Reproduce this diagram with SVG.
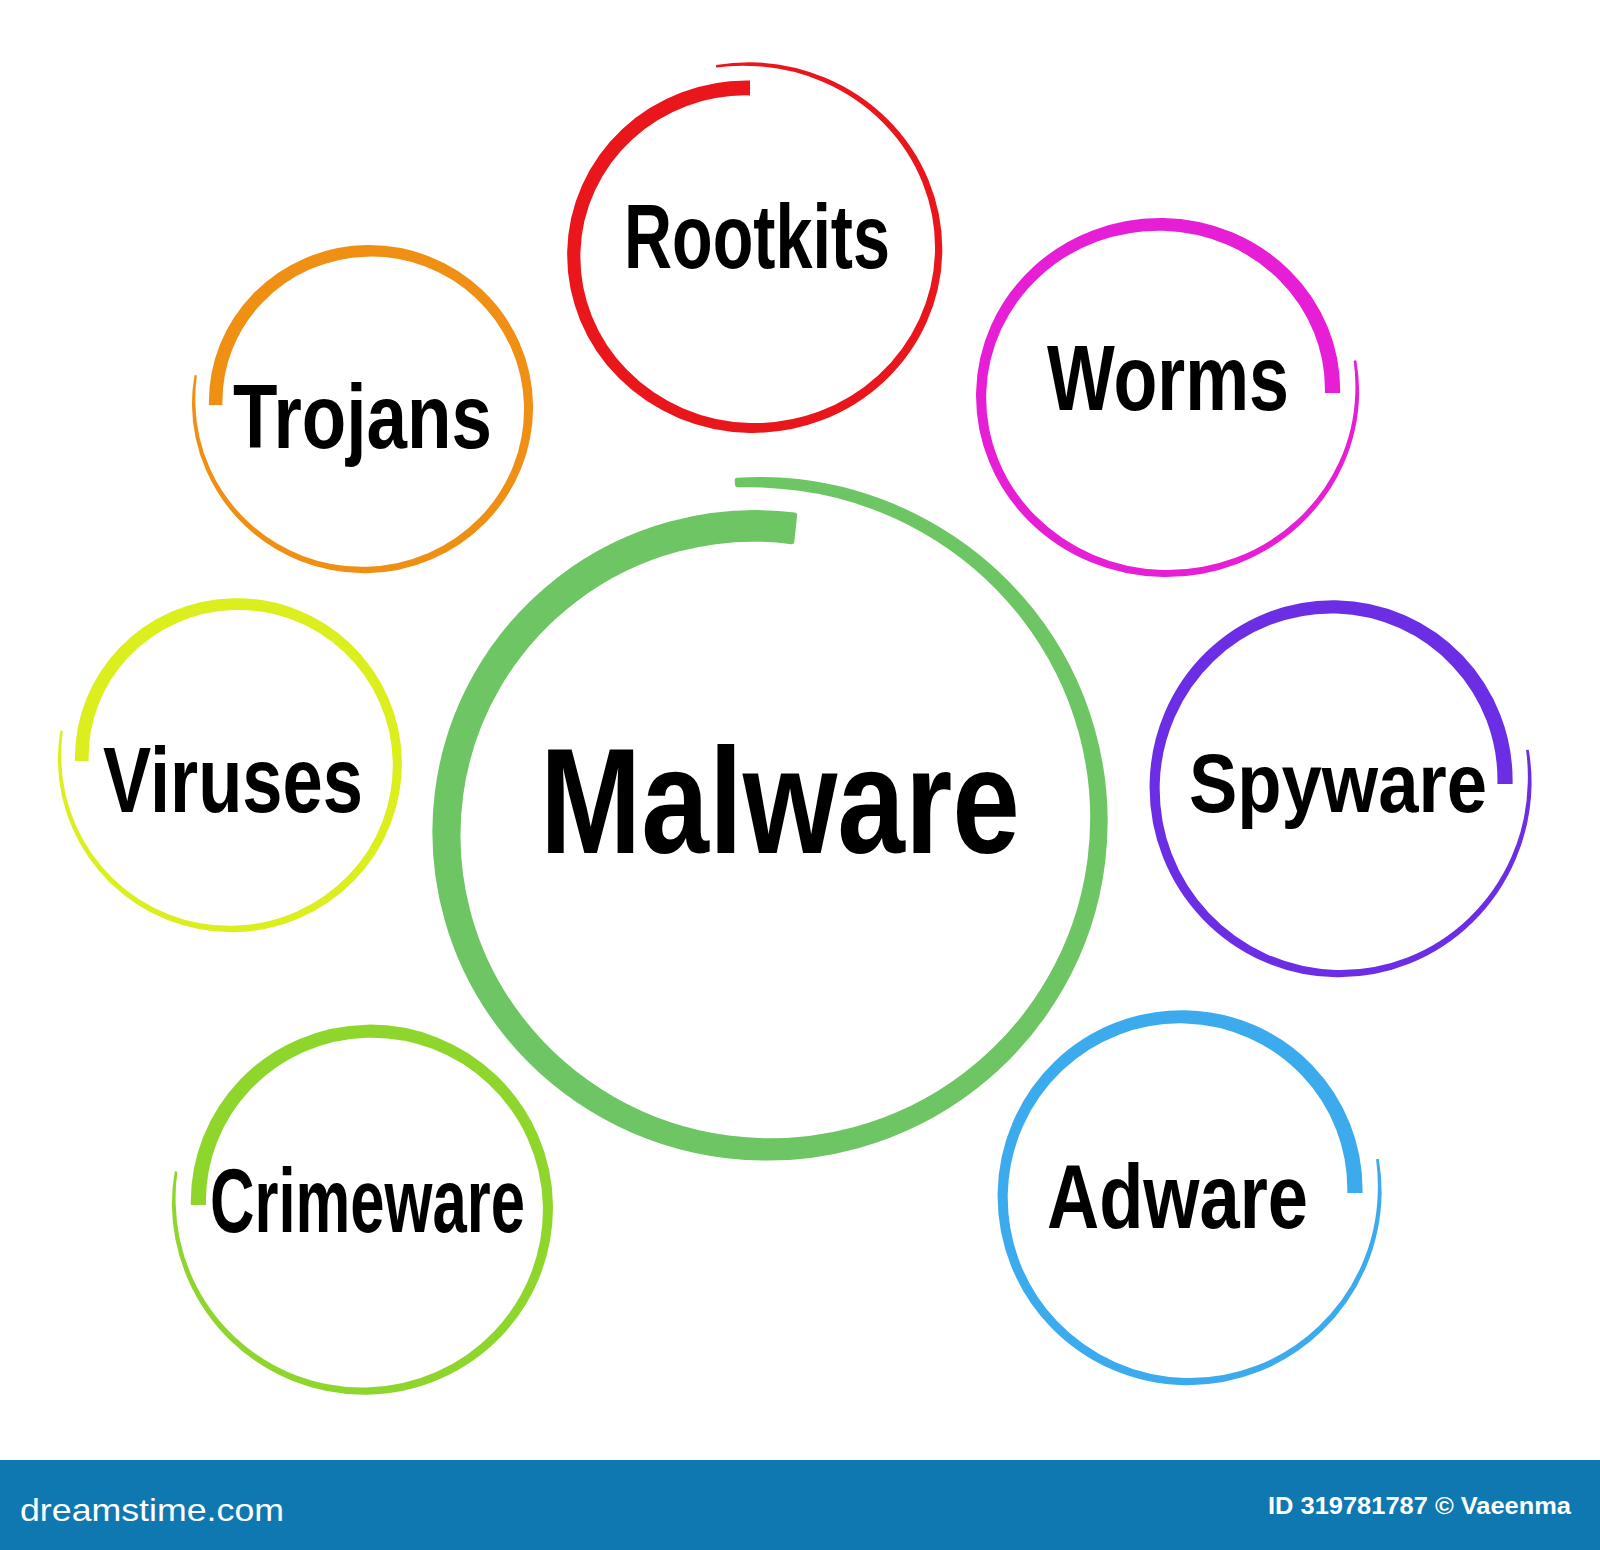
<svg xmlns="http://www.w3.org/2000/svg" xmlns:xlink="http://www.w3.org/1999/xlink" width="1600" height="1550" viewBox="0 0 1600 1550">
<style>
.lbl { font-family: "Liberation Sans", Arial, sans-serif; font-weight: bold; fill: #000; }
.foot { font-family: "Liberation Sans", Arial, sans-serif; fill: #fff; }
</style>
<defs>
<path id="spiral" d="M0,-104.5 A105.3,105.3 0 0 0 -75.04,-75.04 A106.8,106.8 0 0 0 -107.55,0 A108.2,108.2 0 0 0 -77.02,77.02 A109.6,109.6 0 0 0 0,110.3 A111,111 0 0 0 78.96,78.96 A112.4,112.4 0 0 0 113.1,0 A113.8,113.8 0 0 0 80.94,-80.94 A115.1,115.1 0 0 0 0,-115.74 A115.8,115.8 0 0 0 -20.11,-114.04 L-19.83,-112.47 A113.8,113.8 0 0 1 0,-113.44 A112.3,112.3 0 0 1 78.54,-78.54 A109.9,109.9 0 0 1 108.8,0 A107.7,107.7 0 0 1 75.36,75.36 A105.4,105.4 0 0 1 0,104.3 A103.2,103.2 0 0 1 -72.14,72.14 A100.9,100.9 0 0 1 -99.75,0 A98.6,98.6 0 0 1 -68.96,-68.96 A96.5,96.5 0 0 1 0,-95.5 Z"/>
</defs>
<rect width="1600" height="1550" fill="#fff"/>

<g id="node-malware">
<use href="#spiral" xlink:href="#spiral" transform="translate(761.6,826.7) scale(3.033,3.0) rotate(6)" fill="#6dc564" stroke="#6dc564" stroke-width="1.6" stroke-linejoin="round"/>
<text class="lbl" x="540" y="853" font-size="150" textLength="480" lengthAdjust="spacingAndGlyphs">Malware</text>
</g>

<g id="node-rootkits">
<use href="#spiral" xlink:href="#spiral" transform="translate(750,252) scale(1.70,1.64)" fill="#e9161b"/>
<text class="lbl" x="624" y="268" font-size="90" textLength="266" lengthAdjust="spacingAndGlyphs">Rootkits</text>
</g>

<g id="node-worms">
<use href="#spiral" xlink:href="#spiral" transform="translate(1163,393) scale(1.695,1.627) rotate(90)" fill="#e61ed6"/>
<text class="lbl" x="1047" y="410" font-size="92" textLength="242" lengthAdjust="spacingAndGlyphs">Worms</text>
</g>

<g id="node-spyware">
<use href="#spiral" xlink:href="#spiral" transform="translate(1336,784) scale(1.69,1.709) rotate(90)" fill="#6b2ee4"/>
<text class="lbl" x="1189" y="812" font-size="84" textLength="298" lengthAdjust="spacingAndGlyphs">Spyware</text>
</g>

<g id="node-adware">
<use href="#spiral" xlink:href="#spiral" transform="translate(1185,1193) scale(1.699,1.70) rotate(90)" fill="#3cabee"/>
<text class="lbl" x="1047" y="1228" font-size="91" textLength="261" lengthAdjust="spacingAndGlyphs">Adware</text>
</g>

<g id="node-trojans">
<use href="#spiral" xlink:href="#spiral" transform="translate(366.6,405) scale(-1.509,1.487) rotate(90)" fill="#ef8f14"/>
<text class="lbl" x="233" y="448" font-size="91" textLength="259" lengthAdjust="spacingAndGlyphs">Trojans</text>
</g>

<g id="node-viruses">
<use href="#spiral" xlink:href="#spiral" transform="translate(234,761) scale(-1.522,1.514) rotate(90)" fill="#dbee1e"/>
<text class="lbl" x="103" y="812" font-size="93" textLength="260" lengthAdjust="spacingAndGlyphs">Viruses</text>
</g>

<g id="node-crimeware">
<use href="#spiral" xlink:href="#spiral" transform="translate(367,1205) scale(-1.686,1.677) rotate(90)" fill="#8ed62c"/>
<text class="lbl" x="210" y="1232" font-size="91" textLength="315" lengthAdjust="spacingAndGlyphs">Crimeware</text>
</g>

<g id="footer">
<rect x="0" y="1460" width="1600" height="90" fill="#0f78b1"/>
<text class="foot" x="20" y="1521" font-size="32" textLength="264" lengthAdjust="spacingAndGlyphs">dreamstime.com</text>
<text class="foot" x="1268" y="1514" font-size="24" font-weight="bold" textLength="303" lengthAdjust="spacingAndGlyphs">ID 319781787 © Vaeenma</text>
</g>
</svg>
